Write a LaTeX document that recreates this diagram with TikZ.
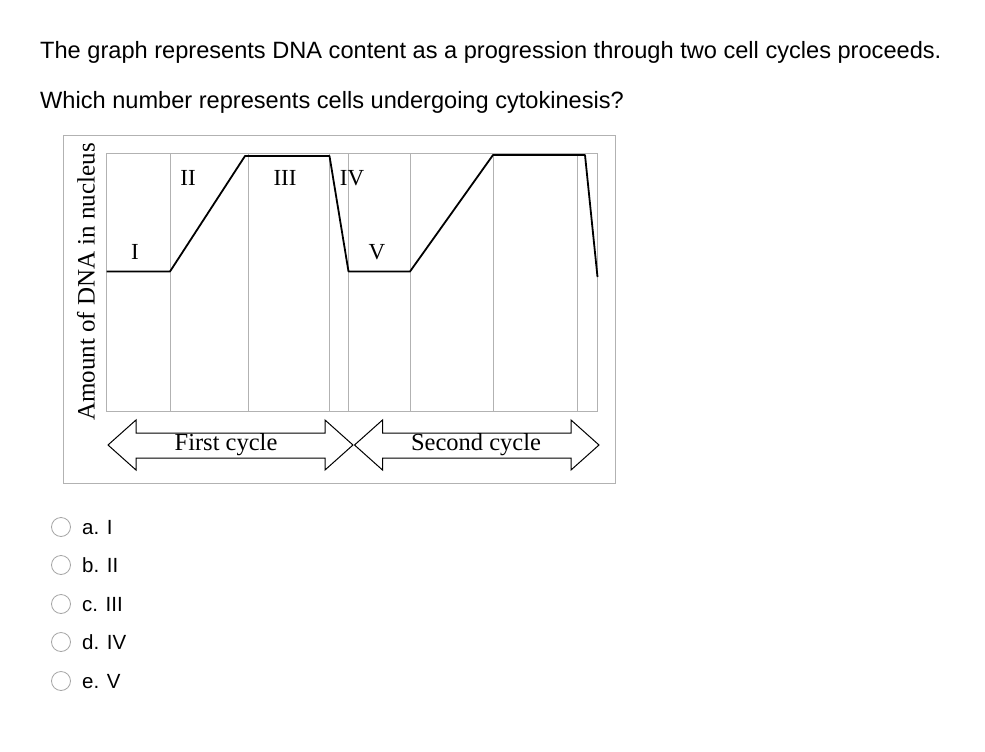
\documentclass[tikz,border=0pt]{standalone}
\usepackage{fontspec}
\setmainfont{Liberation Sans}
\newfontfamily\serifx{Liberation Serif}
\begin{document}
\begin{tikzpicture}[x=1pt,y=-1pt,
  q/.style={anchor=base west,font=\fontsize{23.6}{28}\selectfont,inner sep=0},
  opt/.style={anchor=base west,font=\fontsize{20.5}{24}\selectfont,inner sep=0},
  rad/.style={draw=gray!70,line width=0.8pt,circle,minimum size=19pt,inner sep=0},
  grid/.style={draw=gray!60,line width=0.8pt},
  curve/.style={line width=1.8pt,line join=round},
  lab/.style={font=\serifx\fontsize{23}{26}\selectfont,inner sep=0},
  darrow/.style={line width=1pt,fill=white}]
\useasboundingbox (0,0) rectangle (985,752);
\node[q] (t1) at (40,59) {The graph represents DNA content as a progression through two cell cycles proceeds.};
\node[q] (t2) at (40,108) {Which number represents cells undergoing cytokinesis?};
% frame
\draw[draw=gray!60,line width=1pt] (63.5,135) rectangle (615,483);
\draw[grid] (106.5,153.5) rectangle (597.5,411.5);
\foreach \x in {170,248,329.5,348.5,410,493,577}{\draw[grid] (\x,153.5) -- (\x,411.5);}
\draw[curve] (106.5,271.5) -- (170,271.5) -- (245,156) -- (329.5,156) -- (348.5,271.5) -- (410,271.5) -- (493,155) -- (585,155) -- (597.5,277);
\node[lab] (l1) at (135,252) {I};
\node[lab] (l2) at (188,178) {II};
\node[lab] (l3) at (285,178) {III};
\node[lab] (l4) at (352,178) {IV};
\node[lab] (l5) at (377,252) {V};
\node[lab,font=\serifx\fontsize{25}{28}\selectfont,rotate=90] (yl) at (86,282) {Amount of DNA in nucleus};
% double arrows
\foreach \a/\b in {108/353,354.5/599}{
\draw[darrow] (\a,445) -- (\a+28,420) -- (\a+28,433) -- (\b-28,433) -- (\b-28,420) -- (\b,445) -- (\b-28,470) -- (\b-28,458) -- (\a+28,458) -- (\a+28,470) -- cycle;}
\node[lab,font=\serifx\fontsize{24.5}{28}\selectfont] (c1) at (226,445) {First cycle};
\node[lab,font=\serifx\fontsize{24.5}{28}\selectfont] (c2) at (476,445) {Second cycle};
% options
\foreach \y/\t [count=\i] in {527/a. I,565/b. II,604/c. III,642/d. IV,681/e. V}{
  \node[rad] (r\i) at (61,\y) {};
  \node[opt] (o\i) at (82,\y+7.5) {\t};}
\end{tikzpicture}
\end{document}
